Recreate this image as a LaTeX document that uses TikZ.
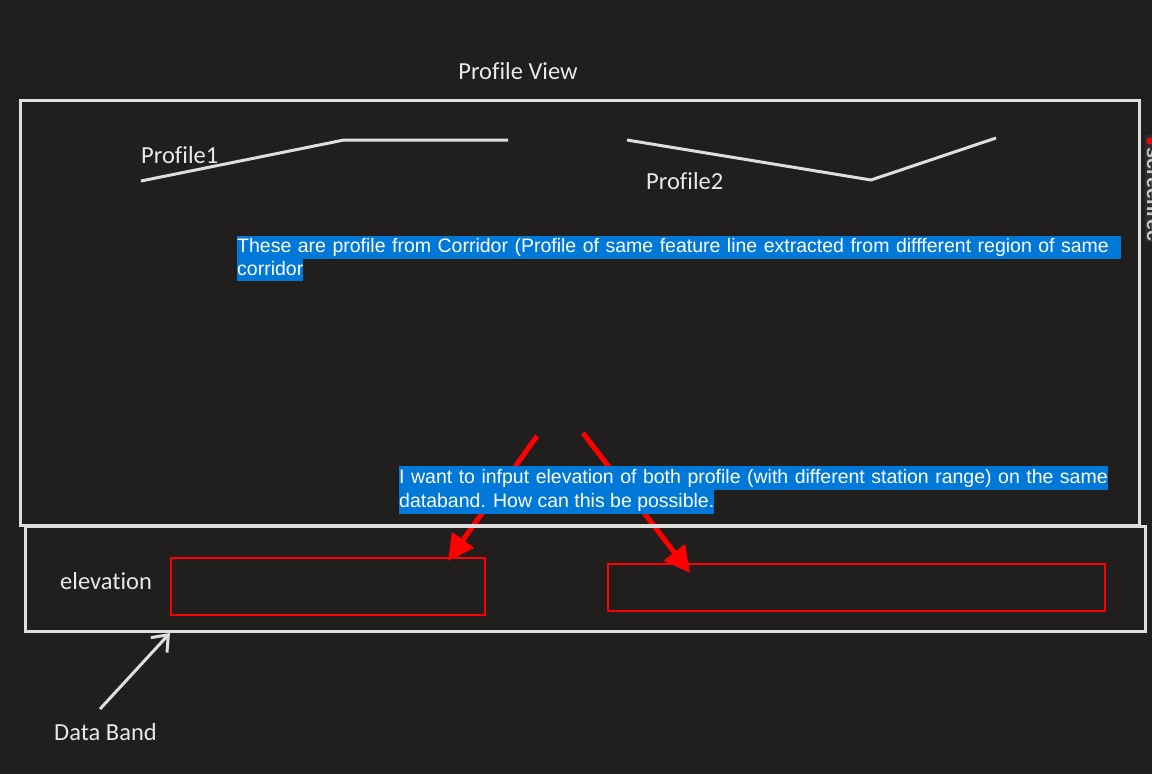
\documentclass[tikz,border=0pt]{standalone}
\usepackage{fontspec}
\setmainfont{Carlito}[Ligatures=NoCommon]
\newfontfamily\arialf{Liberation Sans}[Ligatures=NoCommon]
\usetikzlibrary{arrows.meta}
\definecolor{bgc}{RGB}{32,31,30}
\definecolor{linec}{RGB}{222,222,220}
\definecolor{txtc}{RGB}{232,232,230}
\definecolor{hlblue}{RGB}{0,120,215}
\definecolor{wmstrip}{RGB}{46,46,46}
\definecolor{wmtext}{RGB}{200,200,200}
\tikzset{
  frame/.style={draw=linec, line width=3pt},
  redbox/.style={draw=red, line width=2pt},
  profline/.style={draw=linec, line width=3pt, line join=round},
  lbl/.style={text=txtc, font=\fontsize{24.5pt}{28pt}\selectfont, inner sep=0pt},
  hl/.style={fill=hlblue, text=white, inner sep=0pt, anchor=north west,
     font=\arialf\fontsize{19.5pt}{23pt}\selectfont, align=left},
  hla/.style={hl, text height=16.5pt, text depth=6pt},
  hlb/.style={hl, text height=17pt, text depth=7pt},
  redarrow/.style={draw=red, line width=5pt, -{Triangle[length=26pt,width=26pt]}},
  whitearrow/.style={draw=linec, line width=3pt, -{Straight Barb[length=14pt,width=22pt,line width=3pt]}},
}
\begin{document}
\begin{tikzpicture}[x=1pt,y=-1pt]
\useasboundingbox (0,0) rectangle (1152,774);
\fill[bgc] (0,0) rectangle (1152,774);
% watermark (cut by the right edge, as in the reference)
\fill[wmstrip, rounded corners=3pt] (1145,135) rectangle (1165,242);
\fill[red] (1150,141) circle (3.5pt);
\node[text=wmtext, rotate=-90, anchor=base west, inner sep=0pt, font=\arialf\bfseries\fontsize{20pt}{22pt}\selectfont] (wm) at (1147,147) {screenrec};
% red arrows (under frames and text)
\coordinate (a1s) at (537,436);
\coordinate (a1e) at (448,561);
\coordinate (a2s) at (583,433);
\coordinate (a2e) at (690,573);
\draw[redarrow] (a1s) -- (a1e);
\draw[redarrow] (a2s) -- (a2e);
% frames
\node[frame, anchor=north west, minimum width=1119pt, minimum height=425pt, inner sep=0pt] (pv) at (19,99) {};
\node[frame, anchor=north west, minimum width=1120pt, minimum height=105pt, inner sep=0pt] (db) at (24,525) {};
\node[redbox, anchor=north west, minimum width=314pt, minimum height=57pt, inner sep=0pt] (rb1) at (170,557) {};
\node[redbox, anchor=north west, minimum width=497pt, minimum height=47pt, inner sep=0pt] (rb2) at (607,563) {};
% profiles
\coordinate (p1a) at (141,181);
\coordinate (p1b) at (344,140);
\coordinate (p1c) at (508,140);
\draw[profline] (p1a) -- (p1b) -- (p1c);
\coordinate (p2a) at (627,140);
\coordinate (p2b) at (871,180);
\coordinate (p2c) at (996,138);
\draw[profline] (p2a) -- (p2b) -- (p2c);
% labels
\node[lbl, anchor=base] (title) at (518,79) {Profile View};
\node[lbl, anchor=base west] (prof1) at (141,163) {Profile1};
\node[lbl, anchor=base west] (prof2) at (646,189) {Profile2};
\node[lbl, anchor=base west] (elev) at (60,589) {elevation};
\node[lbl, anchor=base west] (dband) at (54,740) {Data Band};
% white arrow
\coordinate (wa) at (100,709);
\draw[whitearrow] (wa) -- (db.south west -| rb1.south west);
% highlighted texts
\node[hla, text width=884pt] (h1a) at (237,236) {These are profile from Corridor (Profile of same feature line extracted from diffferent region of same};
\node[hla] (h1b) at (237,258.5) {corridor};
\node[hlb, text width=709pt] (h2a) at (399,466) {I want to infput elevation of both profile (with different station range) on the same};
\node[hlb] (h2b) at (399,490) {databand. How can this be possible.};
\end{tikzpicture}
\end{document}
